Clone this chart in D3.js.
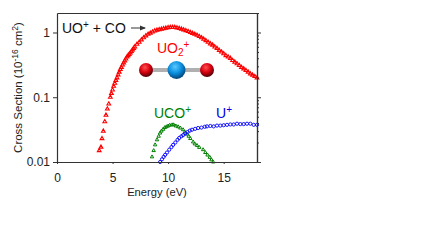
<!DOCTYPE html>
<html>
<head>
<meta charset="utf-8">
<style>
  html, body { margin: 0; padding: 0; background: #fff; }
  svg { display: block; }
  text { font-family: "Liberation Sans", Arial, sans-serif; }
</style>
</head>
<body>
<svg width="448" height="252"></svg>
<script src="https://d3js.org/d3.v7.min.js"></script>
<script>
var xTicks = [0, 5, 10, 15];
var yTicks = [0.01, 0.1, 1];
var yMinorTicks = [0.02, 0.03, 0.04, 0.05, 0.06, 0.07, 0.08, 0.09, 0.2, 0.3, 0.4, 0.5, 0.6, 0.7, 0.8, 0.9, 2];

var uo2Energy = [3.8, 3.96, 4.05, 4.17, 4.3, 4.41, 4.53, 4.66, 4.8, 4.9, 5.0, 5.1, 5.2, 5.3, 5.4, 5.5, 5.6, 5.7, 5.8, 5.9, 6.0, 6.1, 6.2, 6.3, 6.4, 6.5, 6.6, 6.7, 6.8, 6.9, 7.0, 7.2, 7.4, 7.6, 7.8, 8.0, 8.2, 8.4, 8.6, 8.8, 9.0, 9.2, 9.4, 9.6, 9.8, 10.0, 10.2, 10.4, 10.6, 10.8, 11.0, 11.2, 11.4, 11.6, 11.8, 12.0, 12.2, 12.4, 12.6, 12.8, 13.0, 13.2, 13.4, 13.6, 13.8, 14.0, 14.2, 14.4, 14.6, 14.8, 15.0, 15.2, 15.4, 15.6, 15.8, 16.0, 16.2, 16.4, 16.6, 16.8, 17.0, 17.2, 17.4, 17.6, 17.8, 18.0];
var uo2Sigma = [0.015, 0.017, 0.023, 0.03, 0.042, 0.053, 0.066, 0.079, 0.1, 0.115, 0.13, 0.148, 0.165, 0.183, 0.2, 0.222, 0.245, 0.27, 0.29, 0.315, 0.34, 0.365, 0.39, 0.42, 0.44, 0.46, 0.485, 0.51, 0.54, 0.57, 0.6, 0.66, 0.71, 0.77, 0.83, 0.89, 0.94, 0.98, 1.02, 1.06, 1.09, 1.11, 1.13, 1.15, 1.17, 1.19, 1.2, 1.2, 1.2, 1.18, 1.16, 1.13, 1.1, 1.07, 1.04, 1.0, 0.97, 0.94, 0.91, 0.87, 0.83, 0.79, 0.75, 0.71, 0.67, 0.64, 0.6, 0.57, 0.53, 0.5, 0.47, 0.44, 0.42, 0.4, 0.37, 0.35, 0.33, 0.31, 0.29, 0.275, 0.26, 0.245, 0.23, 0.22, 0.21, 0.2];

var ucoEnergy = [8.55, 8.7, 8.83, 9.0, 9.15, 9.28, 9.4, 9.55, 9.7, 9.85, 10.0, 10.15, 10.36, 10.5, 10.7, 10.9, 11.1, 11.35, 11.5, 11.7, 11.85, 12.0, 12.25, 12.4, 12.6, 12.8, 13.15, 13.35, 13.55, 13.75, 13.9, 14.05];
var ucoSigma = [0.012, 0.015, 0.0184, 0.022, 0.025, 0.028, 0.03, 0.032, 0.034, 0.035, 0.036, 0.037, 0.0375, 0.0375, 0.036, 0.035, 0.0335, 0.0315, 0.029, 0.027, 0.025, 0.023, 0.0204, 0.019, 0.018, 0.0168, 0.0155, 0.014, 0.0128, 0.0118, 0.0108, 0.01];

var uEnergy = [9.28, 9.45, 9.6, 9.73, 9.9, 10.1, 10.3, 10.45, 10.65, 10.85, 11.0, 11.2, 11.35, 11.55, 11.75, 11.95, 12.15, 12.43, 12.7, 13.0, 13.3, 13.5, 13.8, 14.1, 14.4, 14.7, 15.0, 15.3, 15.6, 15.9, 16.2, 16.5, 16.8, 17.1, 17.4, 17.7, 18.0];
var uSigma = [0.01, 0.011, 0.012, 0.0129, 0.014, 0.0155, 0.017, 0.0184, 0.02, 0.022, 0.0235, 0.025, 0.026, 0.0275, 0.029, 0.0305, 0.0315, 0.0325, 0.0335, 0.034, 0.035, 0.0355, 0.036, 0.0355, 0.0365, 0.0365, 0.037, 0.0375, 0.038, 0.038, 0.039, 0.0385, 0.0385, 0.039, 0.039, 0.0375, 0.0375];

var svg = d3.select("svg");
var margin = {left: 57, right: 257, top: 13, bottom: 162};

var x = d3.scaleLinear().domain([0, 18]).range([margin.left, margin.right]);
var y = d3.scaleLog().domain([0.01, 2]).range([margin.bottom, margin.top]);

function zip(xs, ys) { return xs.map(function(d, i) { return [d, ys[i]]; }); }

var axisColor = "#333";

// marks first so the frame sits on top
var red = svg.append("g").attr("fill", "none").attr("stroke", "#ff0000").attr("stroke-width", 1.1);
red.selectAll("path").data(zip(uo2Energy, uo2Sigma)).enter().append("path")
  .attr("d", d3.symbol().type(d3.symbolTriangle).size(6))
  .attr("transform", function(d) { return "translate(" + x(d[0]) + "," + y(d[1]) + ")"; });

var green = svg.append("g").attr("fill", "none").attr("stroke", "#008000").attr("stroke-width", 1);
green.selectAll("path").data(zip(ucoEnergy, ucoSigma)).enter().append("path")
  .attr("d", d3.symbol().type(d3.symbolTriangle).size(5))
  .attr("transform", function(d) { return "translate(" + x(d[0]) + "," + y(d[1]) + ")"; });

var blue = svg.append("g").attr("fill", "none").attr("stroke", "#0000ff").attr("stroke-width", 0.9);
blue.selectAll("circle").data(zip(uEnergy, uSigma)).enter().append("circle")
  .attr("r", 1.6)
  .attr("cx", function(d) { return x(d[0]); })
  .attr("cy", function(d) { return y(d[1]); });

// axes
var xAxis = svg.append("g").attr("transform", "translate(0," + margin.bottom + ")")
  .call(d3.axisBottom(x).tickValues(xTicks).tickSize(2).tickSizeOuter(0).tickPadding(9).tickFormat(d3.format("d")));
var yAxis = svg.append("g").attr("transform", "translate(" + margin.left + ",0)")
  .call(d3.axisLeft(y).tickValues(yTicks).tickSize(4).tickSizeOuter(0).tickPadding(3).tickFormat(function(d) { return String(d); }));
var topAxis = svg.append("g").attr("transform", "translate(0," + margin.top + ")")
  .call(d3.axisTop(x).tickValues([]).tickSize(0));
var rightAxis = svg.append("g").attr("transform", "translate(" + margin.right + ",0)")
  .call(d3.axisRight(y).tickValues(yTicks).tickSize(4).tickSizeOuter(0).tickFormat(""));
var rightMinor = svg.append("g").attr("transform", "translate(" + margin.right + ",0)")
  .call(d3.axisRight(y).tickValues(yMinorTicks).tickSize(2).tickSizeOuter(0).tickFormat(""));

[xAxis, yAxis, topAxis, rightAxis, rightMinor].forEach(function(a) {
  a.selectAll(".domain").attr("stroke", axisColor).attr("stroke-width", 1.2);
  a.selectAll("line").attr("stroke", axisColor);
  a.selectAll("text").attr("font-size", 12).attr("fill", "#222")
    .attr("font-family", '"Liberation Sans", Arial, sans-serif');
});

// axis titles
svg.append("text").attr("x", x(9)).attr("y", 196).attr("text-anchor", "middle")
  .attr("font-size", 11.2).attr("fill", "#222").text("Energy (eV)");

var yTitle = svg.append("text").attr("transform", "translate(22,87.5) rotate(-90)")
  .attr("text-anchor", "middle").attr("font-size", 11.5).attr("fill", "#222");
yTitle.append("tspan").text("Cross Section (10");
yTitle.append("tspan").attr("font-size", 8.5).attr("dy", -4).text("-16");
yTitle.append("tspan").attr("dy", 4).text(" cm");
yTitle.append("tspan").attr("font-size", 8.5).attr("dy", -4).text("2");
yTitle.append("tspan").attr("dy", 4).text(")");

// labels
function label(px, py, color, parts) {
  var t = svg.append("text").attr("x", px).attr("y", py).attr("font-size", 14).attr("fill", color);
  parts.forEach(function(p) {
    var s = t.append("tspan").text(p[0]);
    if (p[1]) s.attr("font-size", 10).attr("dy", p[1]);
    if (p[2]) s.attr("dy", p[2]);
  });
}
label(62, 33, "#111", [["UO"], ["+", -5], [" + CO", null, 5]]);
label(157, 53, "#ff0000", [["UO"], ["2", 3], ["+", -8]]);
label(154, 118, "#008000", [["UCO"], ["+", -5]]);
label(216, 118, "#0000e6", [["U"], ["+", -5]]);

// arrow after the UO+ + CO label
svg.append("line").attr("x1", 131).attr("y1", 28).attr("x2", 145).attr("y2", 28)
  .attr("stroke", "#333").attr("stroke-width", 1);
svg.append("path").attr("d", "M140,25.5L146,28L140,30.5Z").attr("fill", "#333");

// molecule
var defs = svg.append("defs");
function ball(id, c0, c1, c2) {
  var g = defs.append("radialGradient").attr("id", id).attr("cx", "42%").attr("cy", "32%").attr("r", "65%");
  g.append("stop").attr("offset", "0%").attr("stop-color", c0);
  g.append("stop").attr("offset", "55%").attr("stop-color", c1);
  g.append("stop").attr("offset", "100%").attr("stop-color", c2);
}
ball("oxy", "#ff5050", "#d80010", "#5a0008");
ball("ura", "#5cc8ff", "#0a90e0", "#064a80");
svg.append("rect").attr("x", 146).attr("y", 68).attr("width", 61).attr("height", 4).attr("fill", "#b0b0b0");
svg.append("circle").attr("cx", 146).attr("cy", 70).attr("r", 7).attr("fill", "url(#oxy)");
svg.append("circle").attr("cx", 207).attr("cy", 70).attr("r", 7).attr("fill", "url(#oxy)");
svg.append("circle").attr("cx", 176.5).attr("cy", 70).attr("r", 9).attr("fill", "url(#ura)");
</script>
</body>
</html>
